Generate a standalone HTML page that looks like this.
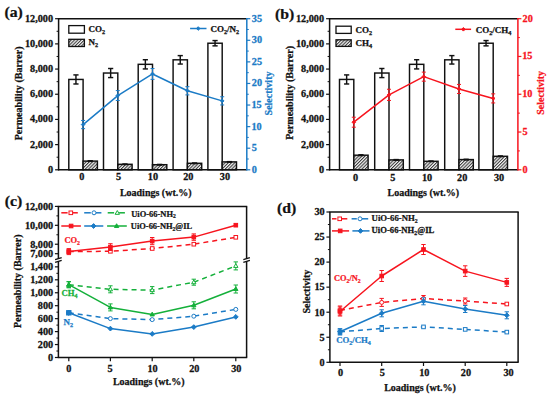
<!DOCTYPE html><html><head><meta charset="utf-8"><style>html,body{margin:0;padding:0;background:#fff;width:550px;height:397px;overflow:hidden}svg{display:block}text{font-family:"Liberation Serif",serif;font-weight:bold;stroke:currentColor;stroke-width:0.25px}</style></head><body>
<svg width="550" height="397" viewBox="0 0 550 397">
<defs><pattern id="hatch" patternUnits="userSpaceOnUse" width="2.3" height="2.3" patternTransform="rotate(45)"><rect width="2.3" height="2.3" fill="#f4f4f4"/><rect width="1.05" height="2.3" fill="#3a3a3a"/></pattern></defs>
<rect width="550" height="397" fill="#fff"/>
<rect x="68.80" y="79.44" width="14.30" height="90.36" fill="#fff" stroke="#111" stroke-width="1.45"/>
<rect x="83.10" y="161.10" width="14.30" height="8.70" fill="url(#hatch)" stroke="#111" stroke-width="1.45"/>
<line x1="75.95" y1="74.91" x2="75.95" y2="83.98" stroke="#111" stroke-width="1.45" stroke-linecap="butt"/>
<line x1="73.35" y1="74.91" x2="78.55" y2="74.91" stroke="#111" stroke-width="1.45" stroke-linecap="butt"/>
<line x1="73.35" y1="83.98" x2="78.55" y2="83.98" stroke="#111" stroke-width="1.45" stroke-linecap="butt"/>
<line x1="90.25" y1="160.78" x2="90.25" y2="161.41" stroke="#111" stroke-width="1.45" stroke-linecap="butt"/>
<line x1="87.65" y1="160.78" x2="92.85" y2="160.78" stroke="#111" stroke-width="1.45" stroke-linecap="butt"/>
<line x1="87.65" y1="161.41" x2="92.85" y2="161.41" stroke="#111" stroke-width="1.45" stroke-linecap="butt"/>
<rect x="103.50" y="73.03" width="14.30" height="96.77" fill="#fff" stroke="#111" stroke-width="1.45"/>
<rect x="117.80" y="164.30" width="14.30" height="5.50" fill="url(#hatch)" stroke="#111" stroke-width="1.45"/>
<line x1="110.65" y1="68.50" x2="110.65" y2="77.57" stroke="#111" stroke-width="1.45" stroke-linecap="butt"/>
<line x1="108.05" y1="68.50" x2="113.25" y2="68.50" stroke="#111" stroke-width="1.45" stroke-linecap="butt"/>
<line x1="108.05" y1="77.57" x2="113.25" y2="77.57" stroke="#111" stroke-width="1.45" stroke-linecap="butt"/>
<line x1="124.95" y1="164.05" x2="124.95" y2="164.55" stroke="#111" stroke-width="1.45" stroke-linecap="butt"/>
<line x1="122.35" y1="164.05" x2="127.55" y2="164.05" stroke="#111" stroke-width="1.45" stroke-linecap="butt"/>
<line x1="122.35" y1="164.55" x2="127.55" y2="164.55" stroke="#111" stroke-width="1.45" stroke-linecap="butt"/>
<rect x="138.20" y="64.33" width="14.30" height="105.47" fill="#fff" stroke="#111" stroke-width="1.45"/>
<rect x="152.50" y="164.70" width="14.30" height="5.10" fill="url(#hatch)" stroke="#111" stroke-width="1.45"/>
<line x1="145.35" y1="59.74" x2="145.35" y2="68.93" stroke="#111" stroke-width="1.45" stroke-linecap="butt"/>
<line x1="142.75" y1="59.74" x2="147.95" y2="59.74" stroke="#111" stroke-width="1.45" stroke-linecap="butt"/>
<line x1="142.75" y1="68.93" x2="147.95" y2="68.93" stroke="#111" stroke-width="1.45" stroke-linecap="butt"/>
<line x1="159.65" y1="164.45" x2="159.65" y2="164.95" stroke="#111" stroke-width="1.45" stroke-linecap="butt"/>
<line x1="157.05" y1="164.45" x2="162.25" y2="164.45" stroke="#111" stroke-width="1.45" stroke-linecap="butt"/>
<line x1="157.05" y1="164.95" x2="162.25" y2="164.95" stroke="#111" stroke-width="1.45" stroke-linecap="butt"/>
<rect x="173.10" y="59.82" width="14.30" height="109.98" fill="#fff" stroke="#111" stroke-width="1.45"/>
<rect x="187.40" y="163.29" width="14.30" height="6.51" fill="url(#hatch)" stroke="#111" stroke-width="1.45"/>
<line x1="180.25" y1="55.61" x2="180.25" y2="64.04" stroke="#111" stroke-width="1.45" stroke-linecap="butt"/>
<line x1="177.65" y1="55.61" x2="182.85" y2="55.61" stroke="#111" stroke-width="1.45" stroke-linecap="butt"/>
<line x1="177.65" y1="64.04" x2="182.85" y2="64.04" stroke="#111" stroke-width="1.45" stroke-linecap="butt"/>
<line x1="194.55" y1="162.98" x2="194.55" y2="163.60" stroke="#111" stroke-width="1.45" stroke-linecap="butt"/>
<line x1="191.95" y1="162.98" x2="197.15" y2="162.98" stroke="#111" stroke-width="1.45" stroke-linecap="butt"/>
<line x1="191.95" y1="163.60" x2="197.15" y2="163.60" stroke="#111" stroke-width="1.45" stroke-linecap="butt"/>
<rect x="207.90" y="43.22" width="14.30" height="126.58" fill="#fff" stroke="#111" stroke-width="1.45"/>
<rect x="222.20" y="161.89" width="14.30" height="7.91" fill="url(#hatch)" stroke="#111" stroke-width="1.45"/>
<line x1="215.05" y1="40.57" x2="215.05" y2="45.86" stroke="#111" stroke-width="1.45" stroke-linecap="butt"/>
<line x1="212.45" y1="40.57" x2="217.65" y2="40.57" stroke="#111" stroke-width="1.45" stroke-linecap="butt"/>
<line x1="212.45" y1="45.86" x2="217.65" y2="45.86" stroke="#111" stroke-width="1.45" stroke-linecap="butt"/>
<line x1="229.35" y1="161.64" x2="229.35" y2="162.14" stroke="#111" stroke-width="1.45" stroke-linecap="butt"/>
<line x1="226.75" y1="161.64" x2="231.95" y2="161.64" stroke="#111" stroke-width="1.45" stroke-linecap="butt"/>
<line x1="226.75" y1="162.14" x2="231.95" y2="162.14" stroke="#111" stroke-width="1.45" stroke-linecap="butt"/>
<polyline points="83.10,124.56 117.80,95.55 152.50,73.96 187.40,90.80 222.20,100.86" fill="none" stroke="#1b7bc6" stroke-width="1.5" stroke-linejoin="round"/>
<line x1="83.10" y1="120.46" x2="83.10" y2="128.66" stroke="#1b7bc6" stroke-width="1" stroke-linecap="butt"/>
<line x1="81.10" y1="120.46" x2="85.10" y2="120.46" stroke="#1b7bc6" stroke-width="1" stroke-linecap="butt"/>
<line x1="81.10" y1="128.66" x2="85.10" y2="128.66" stroke="#1b7bc6" stroke-width="1" stroke-linecap="butt"/>
<polygon points="83.10,122.76 84.90,124.56 83.10,126.36 81.30,124.56" fill="#1b7bc6" stroke="#1b7bc6" stroke-width="1"/>
<line x1="117.80" y1="90.58" x2="117.80" y2="100.51" stroke="#1b7bc6" stroke-width="1" stroke-linecap="butt"/>
<line x1="115.80" y1="90.58" x2="119.80" y2="90.58" stroke="#1b7bc6" stroke-width="1" stroke-linecap="butt"/>
<line x1="115.80" y1="100.51" x2="119.80" y2="100.51" stroke="#1b7bc6" stroke-width="1" stroke-linecap="butt"/>
<polygon points="117.80,93.75 119.60,95.55 117.80,97.35 116.00,95.55" fill="#1b7bc6" stroke="#1b7bc6" stroke-width="1"/>
<line x1="152.50" y1="68.56" x2="152.50" y2="79.36" stroke="#1b7bc6" stroke-width="1" stroke-linecap="butt"/>
<line x1="150.50" y1="68.56" x2="154.50" y2="68.56" stroke="#1b7bc6" stroke-width="1" stroke-linecap="butt"/>
<line x1="150.50" y1="79.36" x2="154.50" y2="79.36" stroke="#1b7bc6" stroke-width="1" stroke-linecap="butt"/>
<polygon points="152.50,72.16 154.30,73.96 152.50,75.76 150.70,73.96" fill="#1b7bc6" stroke="#1b7bc6" stroke-width="1"/>
<line x1="187.40" y1="86.69" x2="187.40" y2="94.90" stroke="#1b7bc6" stroke-width="1" stroke-linecap="butt"/>
<line x1="185.40" y1="86.69" x2="189.40" y2="86.69" stroke="#1b7bc6" stroke-width="1" stroke-linecap="butt"/>
<line x1="185.40" y1="94.90" x2="189.40" y2="94.90" stroke="#1b7bc6" stroke-width="1" stroke-linecap="butt"/>
<polygon points="187.40,89.00 189.20,90.80 187.40,92.60 185.60,90.80" fill="#1b7bc6" stroke="#1b7bc6" stroke-width="1"/>
<line x1="222.20" y1="96.75" x2="222.20" y2="104.96" stroke="#1b7bc6" stroke-width="1" stroke-linecap="butt"/>
<line x1="220.20" y1="96.75" x2="224.20" y2="96.75" stroke="#1b7bc6" stroke-width="1" stroke-linecap="butt"/>
<line x1="220.20" y1="104.96" x2="224.20" y2="104.96" stroke="#1b7bc6" stroke-width="1" stroke-linecap="butt"/>
<polygon points="222.20,99.06 224.00,100.86 222.20,102.66 220.40,100.86" fill="#1b7bc6" stroke="#1b7bc6" stroke-width="1"/>
<line x1="58.00" y1="18.70" x2="246.80" y2="18.70" stroke="#111" stroke-width="1.5" stroke-linecap="butt"/>
<line x1="58.60" y1="18.70" x2="58.60" y2="170.40" stroke="#111" stroke-width="1.5" stroke-linecap="butt"/>
<line x1="58.00" y1="169.80" x2="246.80" y2="169.80" stroke="#111" stroke-width="1.5" stroke-linecap="butt"/>
<line x1="246.80" y1="18.10" x2="246.80" y2="170.40" stroke="#1b7bc6" stroke-width="1.5" stroke-linecap="butt"/>
<line x1="55.10" y1="169.80" x2="58.60" y2="169.80" stroke="#111" stroke-width="1.2" stroke-linecap="butt"/>
<text transform="translate(47.98 172.71) scale(1.08 1)" font-size="9.5" text-anchor="start" fill="#111" style="color:#111">0</text>
<line x1="56.60" y1="157.21" x2="58.60" y2="157.21" stroke="#111" stroke-width="1" stroke-linecap="butt"/>
<line x1="55.10" y1="144.62" x2="58.60" y2="144.62" stroke="#111" stroke-width="1.2" stroke-linecap="butt"/>
<text transform="translate(30.03 147.52) scale(1.08 1)" font-size="9.5" text-anchor="start" fill="#111" style="color:#111">2,000</text>
<line x1="56.60" y1="132.03" x2="58.60" y2="132.03" stroke="#111" stroke-width="1" stroke-linecap="butt"/>
<line x1="55.10" y1="119.43" x2="58.60" y2="119.43" stroke="#111" stroke-width="1.2" stroke-linecap="butt"/>
<text transform="translate(30.03 122.34) scale(1.08 1)" font-size="9.5" text-anchor="start" fill="#111" style="color:#111">4,000</text>
<line x1="56.60" y1="106.84" x2="58.60" y2="106.84" stroke="#111" stroke-width="1" stroke-linecap="butt"/>
<line x1="55.10" y1="94.25" x2="58.60" y2="94.25" stroke="#111" stroke-width="1.2" stroke-linecap="butt"/>
<text transform="translate(30.03 97.16) scale(1.08 1)" font-size="9.5" text-anchor="start" fill="#111" style="color:#111">6,000</text>
<line x1="56.60" y1="81.66" x2="58.60" y2="81.66" stroke="#111" stroke-width="1" stroke-linecap="butt"/>
<line x1="55.10" y1="69.07" x2="58.60" y2="69.07" stroke="#111" stroke-width="1.2" stroke-linecap="butt"/>
<text transform="translate(30.03 71.97) scale(1.08 1)" font-size="9.5" text-anchor="start" fill="#111" style="color:#111">8,000</text>
<line x1="56.60" y1="56.47" x2="58.60" y2="56.47" stroke="#111" stroke-width="1" stroke-linecap="butt"/>
<line x1="55.10" y1="43.88" x2="58.60" y2="43.88" stroke="#111" stroke-width="1.2" stroke-linecap="butt"/>
<text transform="translate(24.90 46.79) scale(1.08 1)" font-size="9.5" text-anchor="start" fill="#111" style="color:#111">10,000</text>
<line x1="56.60" y1="31.29" x2="58.60" y2="31.29" stroke="#111" stroke-width="1" stroke-linecap="butt"/>
<line x1="55.10" y1="18.70" x2="58.60" y2="18.70" stroke="#111" stroke-width="1.2" stroke-linecap="butt"/>
<text transform="translate(24.90 21.61) scale(1.08 1)" font-size="9.5" text-anchor="start" fill="#111" style="color:#111">12,000</text>
<line x1="246.80" y1="169.80" x2="250.30" y2="169.80" stroke="#1b7bc6" stroke-width="1.2" stroke-linecap="butt"/>
<text transform="translate(251.79 172.71) scale(1.08 1)" font-size="9.5" text-anchor="start" fill="#1b7bc6" style="color:#1b7bc6">0</text>
<line x1="246.80" y1="159.01" x2="248.80" y2="159.01" stroke="#1b7bc6" stroke-width="1" stroke-linecap="butt"/>
<line x1="246.80" y1="148.21" x2="250.30" y2="148.21" stroke="#1b7bc6" stroke-width="1.2" stroke-linecap="butt"/>
<text transform="translate(251.79 151.12) scale(1.08 1)" font-size="9.5" text-anchor="start" fill="#1b7bc6" style="color:#1b7bc6">5</text>
<line x1="246.80" y1="137.42" x2="248.80" y2="137.42" stroke="#1b7bc6" stroke-width="1" stroke-linecap="butt"/>
<line x1="246.80" y1="126.63" x2="250.30" y2="126.63" stroke="#1b7bc6" stroke-width="1.2" stroke-linecap="butt"/>
<text transform="translate(251.38 129.53) scale(1.08 1)" font-size="9.5" text-anchor="start" fill="#1b7bc6" style="color:#1b7bc6">10</text>
<line x1="246.80" y1="115.84" x2="248.80" y2="115.84" stroke="#1b7bc6" stroke-width="1" stroke-linecap="butt"/>
<line x1="246.80" y1="105.04" x2="250.30" y2="105.04" stroke="#1b7bc6" stroke-width="1.2" stroke-linecap="butt"/>
<text transform="translate(251.38 107.95) scale(1.08 1)" font-size="9.5" text-anchor="start" fill="#1b7bc6" style="color:#1b7bc6">15</text>
<line x1="246.80" y1="94.25" x2="248.80" y2="94.25" stroke="#1b7bc6" stroke-width="1" stroke-linecap="butt"/>
<line x1="246.80" y1="83.46" x2="250.30" y2="83.46" stroke="#1b7bc6" stroke-width="1.2" stroke-linecap="butt"/>
<text transform="translate(251.79 86.36) scale(1.08 1)" font-size="9.5" text-anchor="start" fill="#1b7bc6" style="color:#1b7bc6">20</text>
<line x1="246.80" y1="72.66" x2="248.80" y2="72.66" stroke="#1b7bc6" stroke-width="1" stroke-linecap="butt"/>
<line x1="246.80" y1="61.87" x2="250.30" y2="61.87" stroke="#1b7bc6" stroke-width="1.2" stroke-linecap="butt"/>
<text transform="translate(251.79 64.78) scale(1.08 1)" font-size="9.5" text-anchor="start" fill="#1b7bc6" style="color:#1b7bc6">25</text>
<line x1="246.80" y1="51.08" x2="248.80" y2="51.08" stroke="#1b7bc6" stroke-width="1" stroke-linecap="butt"/>
<line x1="246.80" y1="40.29" x2="250.30" y2="40.29" stroke="#1b7bc6" stroke-width="1.2" stroke-linecap="butt"/>
<text transform="translate(251.79 43.19) scale(1.08 1)" font-size="9.5" text-anchor="start" fill="#1b7bc6" style="color:#1b7bc6">30</text>
<line x1="246.80" y1="29.49" x2="248.80" y2="29.49" stroke="#1b7bc6" stroke-width="1" stroke-linecap="butt"/>
<line x1="246.80" y1="18.70" x2="250.30" y2="18.70" stroke="#1b7bc6" stroke-width="1.2" stroke-linecap="butt"/>
<text transform="translate(251.79 21.61) scale(1.08 1)" font-size="9.5" text-anchor="start" fill="#1b7bc6" style="color:#1b7bc6">35</text>
<text transform="translate(79.14 180.41) scale(1.08 1)" font-size="9.5" text-anchor="start" fill="#111" style="color:#111">0</text>
<text transform="translate(115.91 180.41) scale(1.08 1)" font-size="9.5" text-anchor="start" fill="#111" style="color:#111">5</text>
<text transform="translate(147.76 180.41) scale(1.08 1)" font-size="9.5" text-anchor="start" fill="#111" style="color:#111">10</text>
<text transform="translate(183.17 180.41) scale(1.08 1)" font-size="9.5" text-anchor="start" fill="#111" style="color:#111">20</text>
<text transform="translate(219.87 180.41) scale(1.08 1)" font-size="9.5" text-anchor="start" fill="#111" style="color:#111">30</text>
<rect x="339.50" y="79.44" width="14.30" height="90.36" fill="#fff" stroke="#111" stroke-width="1.45"/>
<rect x="353.80" y="155.19" width="14.30" height="14.61" fill="url(#hatch)" stroke="#111" stroke-width="1.45"/>
<line x1="346.65" y1="74.91" x2="346.65" y2="83.98" stroke="#111" stroke-width="1.45" stroke-linecap="butt"/>
<line x1="344.05" y1="74.91" x2="349.25" y2="74.91" stroke="#111" stroke-width="1.45" stroke-linecap="butt"/>
<line x1="344.05" y1="83.98" x2="349.25" y2="83.98" stroke="#111" stroke-width="1.45" stroke-linecap="butt"/>
<line x1="360.95" y1="154.82" x2="360.95" y2="155.57" stroke="#111" stroke-width="1.45" stroke-linecap="butt"/>
<line x1="358.35" y1="154.82" x2="363.55" y2="154.82" stroke="#111" stroke-width="1.45" stroke-linecap="butt"/>
<line x1="358.35" y1="155.57" x2="363.55" y2="155.57" stroke="#111" stroke-width="1.45" stroke-linecap="butt"/>
<rect x="374.70" y="73.03" width="14.30" height="96.77" fill="#fff" stroke="#111" stroke-width="1.45"/>
<rect x="389.00" y="159.89" width="14.30" height="9.91" fill="url(#hatch)" stroke="#111" stroke-width="1.45"/>
<line x1="381.85" y1="68.50" x2="381.85" y2="77.57" stroke="#111" stroke-width="1.45" stroke-linecap="butt"/>
<line x1="379.25" y1="68.50" x2="384.45" y2="68.50" stroke="#111" stroke-width="1.45" stroke-linecap="butt"/>
<line x1="379.25" y1="77.57" x2="384.45" y2="77.57" stroke="#111" stroke-width="1.45" stroke-linecap="butt"/>
<line x1="396.15" y1="159.58" x2="396.15" y2="160.21" stroke="#111" stroke-width="1.45" stroke-linecap="butt"/>
<line x1="393.55" y1="159.58" x2="398.75" y2="159.58" stroke="#111" stroke-width="1.45" stroke-linecap="butt"/>
<line x1="393.55" y1="160.21" x2="398.75" y2="160.21" stroke="#111" stroke-width="1.45" stroke-linecap="butt"/>
<rect x="409.50" y="64.33" width="14.30" height="105.47" fill="#fff" stroke="#111" stroke-width="1.45"/>
<rect x="423.80" y="161.29" width="14.30" height="8.51" fill="url(#hatch)" stroke="#111" stroke-width="1.45"/>
<line x1="416.65" y1="59.74" x2="416.65" y2="68.93" stroke="#111" stroke-width="1.45" stroke-linecap="butt"/>
<line x1="414.05" y1="59.74" x2="419.25" y2="59.74" stroke="#111" stroke-width="1.45" stroke-linecap="butt"/>
<line x1="414.05" y1="68.93" x2="419.25" y2="68.93" stroke="#111" stroke-width="1.45" stroke-linecap="butt"/>
<line x1="430.95" y1="161.04" x2="430.95" y2="161.54" stroke="#111" stroke-width="1.45" stroke-linecap="butt"/>
<line x1="428.35" y1="161.04" x2="433.55" y2="161.04" stroke="#111" stroke-width="1.45" stroke-linecap="butt"/>
<line x1="428.35" y1="161.54" x2="433.55" y2="161.54" stroke="#111" stroke-width="1.45" stroke-linecap="butt"/>
<rect x="444.70" y="59.82" width="14.30" height="109.98" fill="#fff" stroke="#111" stroke-width="1.45"/>
<rect x="459.00" y="159.59" width="14.30" height="10.21" fill="url(#hatch)" stroke="#111" stroke-width="1.45"/>
<line x1="451.85" y1="55.61" x2="451.85" y2="64.04" stroke="#111" stroke-width="1.45" stroke-linecap="butt"/>
<line x1="449.25" y1="55.61" x2="454.45" y2="55.61" stroke="#111" stroke-width="1.45" stroke-linecap="butt"/>
<line x1="449.25" y1="64.04" x2="454.45" y2="64.04" stroke="#111" stroke-width="1.45" stroke-linecap="butt"/>
<line x1="466.15" y1="159.27" x2="466.15" y2="159.90" stroke="#111" stroke-width="1.45" stroke-linecap="butt"/>
<line x1="463.55" y1="159.27" x2="468.75" y2="159.27" stroke="#111" stroke-width="1.45" stroke-linecap="butt"/>
<line x1="463.55" y1="159.90" x2="468.75" y2="159.90" stroke="#111" stroke-width="1.45" stroke-linecap="butt"/>
<rect x="478.90" y="43.22" width="14.30" height="126.58" fill="#fff" stroke="#111" stroke-width="1.45"/>
<rect x="493.20" y="156.29" width="14.30" height="13.51" fill="url(#hatch)" stroke="#111" stroke-width="1.45"/>
<line x1="486.05" y1="40.57" x2="486.05" y2="45.86" stroke="#111" stroke-width="1.45" stroke-linecap="butt"/>
<line x1="483.45" y1="40.57" x2="488.65" y2="40.57" stroke="#111" stroke-width="1.45" stroke-linecap="butt"/>
<line x1="483.45" y1="45.86" x2="488.65" y2="45.86" stroke="#111" stroke-width="1.45" stroke-linecap="butt"/>
<line x1="500.35" y1="155.97" x2="500.35" y2="156.60" stroke="#111" stroke-width="1.45" stroke-linecap="butt"/>
<line x1="497.75" y1="155.97" x2="502.95" y2="155.97" stroke="#111" stroke-width="1.45" stroke-linecap="butt"/>
<line x1="497.75" y1="156.60" x2="502.95" y2="156.60" stroke="#111" stroke-width="1.45" stroke-linecap="butt"/>
<polyline points="353.80,122.20 389.00,94.85 423.80,76.65 459.00,88.96 493.20,98.41" fill="none" stroke="#f7141e" stroke-width="1.5" stroke-linejoin="round"/>
<line x1="353.80" y1="117.22" x2="353.80" y2="127.19" stroke="#f7141e" stroke-width="1" stroke-linecap="butt"/>
<line x1="351.80" y1="117.22" x2="355.80" y2="117.22" stroke="#f7141e" stroke-width="1" stroke-linecap="butt"/>
<line x1="351.80" y1="127.19" x2="355.80" y2="127.19" stroke="#f7141e" stroke-width="1" stroke-linecap="butt"/>
<polygon points="353.80,120.40 355.60,122.20 353.80,124.00 352.00,122.20" fill="#f7141e" stroke="#f7141e" stroke-width="1"/>
<line x1="389.00" y1="89.26" x2="389.00" y2="100.45" stroke="#f7141e" stroke-width="1" stroke-linecap="butt"/>
<line x1="387.00" y1="89.26" x2="391.00" y2="89.26" stroke="#f7141e" stroke-width="1" stroke-linecap="butt"/>
<line x1="387.00" y1="100.45" x2="391.00" y2="100.45" stroke="#f7141e" stroke-width="1" stroke-linecap="butt"/>
<polygon points="389.00,93.05 390.80,94.85 389.00,96.65 387.20,94.85" fill="#f7141e" stroke="#f7141e" stroke-width="1"/>
<line x1="423.80" y1="72.11" x2="423.80" y2="81.18" stroke="#f7141e" stroke-width="1" stroke-linecap="butt"/>
<line x1="421.80" y1="72.11" x2="425.80" y2="72.11" stroke="#f7141e" stroke-width="1" stroke-linecap="butt"/>
<line x1="421.80" y1="81.18" x2="425.80" y2="81.18" stroke="#f7141e" stroke-width="1" stroke-linecap="butt"/>
<polygon points="423.80,74.85 425.60,76.65 423.80,78.45 422.00,76.65" fill="#f7141e" stroke="#f7141e" stroke-width="1"/>
<line x1="459.00" y1="84.43" x2="459.00" y2="93.49" stroke="#f7141e" stroke-width="1" stroke-linecap="butt"/>
<line x1="457.00" y1="84.43" x2="461.00" y2="84.43" stroke="#f7141e" stroke-width="1" stroke-linecap="butt"/>
<line x1="457.00" y1="93.49" x2="461.00" y2="93.49" stroke="#f7141e" stroke-width="1" stroke-linecap="butt"/>
<polygon points="459.00,87.16 460.80,88.96 459.00,90.76 457.20,88.96" fill="#f7141e" stroke="#f7141e" stroke-width="1"/>
<line x1="493.20" y1="93.87" x2="493.20" y2="102.94" stroke="#f7141e" stroke-width="1" stroke-linecap="butt"/>
<line x1="491.20" y1="93.87" x2="495.20" y2="93.87" stroke="#f7141e" stroke-width="1" stroke-linecap="butt"/>
<line x1="491.20" y1="102.94" x2="495.20" y2="102.94" stroke="#f7141e" stroke-width="1" stroke-linecap="butt"/>
<polygon points="493.20,96.61 495.00,98.41 493.20,100.21 491.40,98.41" fill="#f7141e" stroke="#f7141e" stroke-width="1"/>
<line x1="329.00" y1="18.70" x2="517.90" y2="18.70" stroke="#111" stroke-width="1.5" stroke-linecap="butt"/>
<line x1="329.60" y1="18.70" x2="329.60" y2="170.40" stroke="#111" stroke-width="1.5" stroke-linecap="butt"/>
<line x1="329.00" y1="169.80" x2="517.90" y2="169.80" stroke="#111" stroke-width="1.5" stroke-linecap="butt"/>
<line x1="517.90" y1="18.10" x2="517.90" y2="170.40" stroke="#f7141e" stroke-width="1.5" stroke-linecap="butt"/>
<line x1="326.10" y1="169.80" x2="329.60" y2="169.80" stroke="#111" stroke-width="1.2" stroke-linecap="butt"/>
<text transform="translate(318.98 172.71) scale(1.08 1)" font-size="9.5" text-anchor="start" fill="#111" style="color:#111">0</text>
<line x1="327.60" y1="157.21" x2="329.60" y2="157.21" stroke="#111" stroke-width="1" stroke-linecap="butt"/>
<line x1="326.10" y1="144.62" x2="329.60" y2="144.62" stroke="#111" stroke-width="1.2" stroke-linecap="butt"/>
<text transform="translate(301.03 147.52) scale(1.08 1)" font-size="9.5" text-anchor="start" fill="#111" style="color:#111">2,000</text>
<line x1="327.60" y1="132.03" x2="329.60" y2="132.03" stroke="#111" stroke-width="1" stroke-linecap="butt"/>
<line x1="326.10" y1="119.43" x2="329.60" y2="119.43" stroke="#111" stroke-width="1.2" stroke-linecap="butt"/>
<text transform="translate(301.03 122.34) scale(1.08 1)" font-size="9.5" text-anchor="start" fill="#111" style="color:#111">4,000</text>
<line x1="327.60" y1="106.84" x2="329.60" y2="106.84" stroke="#111" stroke-width="1" stroke-linecap="butt"/>
<line x1="326.10" y1="94.25" x2="329.60" y2="94.25" stroke="#111" stroke-width="1.2" stroke-linecap="butt"/>
<text transform="translate(301.03 97.16) scale(1.08 1)" font-size="9.5" text-anchor="start" fill="#111" style="color:#111">6,000</text>
<line x1="327.60" y1="81.66" x2="329.60" y2="81.66" stroke="#111" stroke-width="1" stroke-linecap="butt"/>
<line x1="326.10" y1="69.07" x2="329.60" y2="69.07" stroke="#111" stroke-width="1.2" stroke-linecap="butt"/>
<text transform="translate(301.03 71.97) scale(1.08 1)" font-size="9.5" text-anchor="start" fill="#111" style="color:#111">8,000</text>
<line x1="327.60" y1="56.47" x2="329.60" y2="56.47" stroke="#111" stroke-width="1" stroke-linecap="butt"/>
<line x1="326.10" y1="43.88" x2="329.60" y2="43.88" stroke="#111" stroke-width="1.2" stroke-linecap="butt"/>
<text transform="translate(295.90 46.79) scale(1.08 1)" font-size="9.5" text-anchor="start" fill="#111" style="color:#111">10,000</text>
<line x1="327.60" y1="31.29" x2="329.60" y2="31.29" stroke="#111" stroke-width="1" stroke-linecap="butt"/>
<line x1="326.10" y1="18.70" x2="329.60" y2="18.70" stroke="#111" stroke-width="1.2" stroke-linecap="butt"/>
<text transform="translate(295.90 21.61) scale(1.08 1)" font-size="9.5" text-anchor="start" fill="#111" style="color:#111">12,000</text>
<line x1="517.90" y1="169.80" x2="521.40" y2="169.80" stroke="#f7141e" stroke-width="1.2" stroke-linecap="butt"/>
<text transform="translate(522.59 172.71) scale(1.08 1)" font-size="9.5" text-anchor="start" fill="#f7141e" style="color:#f7141e">0</text>
<line x1="517.90" y1="150.91" x2="519.90" y2="150.91" stroke="#f7141e" stroke-width="1" stroke-linecap="butt"/>
<line x1="517.90" y1="132.03" x2="521.40" y2="132.03" stroke="#f7141e" stroke-width="1.2" stroke-linecap="butt"/>
<text transform="translate(522.59 134.93) scale(1.08 1)" font-size="9.5" text-anchor="start" fill="#f7141e" style="color:#f7141e">5</text>
<line x1="517.90" y1="113.14" x2="519.90" y2="113.14" stroke="#f7141e" stroke-width="1" stroke-linecap="butt"/>
<line x1="517.90" y1="94.25" x2="521.40" y2="94.25" stroke="#f7141e" stroke-width="1.2" stroke-linecap="butt"/>
<text transform="translate(522.18 97.16) scale(1.08 1)" font-size="9.5" text-anchor="start" fill="#f7141e" style="color:#f7141e">10</text>
<line x1="517.90" y1="75.36" x2="519.90" y2="75.36" stroke="#f7141e" stroke-width="1" stroke-linecap="butt"/>
<line x1="517.90" y1="56.47" x2="521.40" y2="56.47" stroke="#f7141e" stroke-width="1.2" stroke-linecap="butt"/>
<text transform="translate(522.18 59.38) scale(1.08 1)" font-size="9.5" text-anchor="start" fill="#f7141e" style="color:#f7141e">15</text>
<line x1="517.90" y1="37.59" x2="519.90" y2="37.59" stroke="#f7141e" stroke-width="1" stroke-linecap="butt"/>
<line x1="517.90" y1="18.70" x2="521.40" y2="18.70" stroke="#f7141e" stroke-width="1.2" stroke-linecap="butt"/>
<text transform="translate(522.59 21.61) scale(1.08 1)" font-size="9.5" text-anchor="start" fill="#f7141e" style="color:#f7141e">20</text>
<text transform="translate(353.04 180.81) scale(1.08 1)" font-size="9.5" text-anchor="start" fill="#111" style="color:#111">0</text>
<text transform="translate(390.31 180.81) scale(1.08 1)" font-size="9.5" text-anchor="start" fill="#111" style="color:#111">5</text>
<text transform="translate(421.96 180.81) scale(1.08 1)" font-size="9.5" text-anchor="start" fill="#111" style="color:#111">10</text>
<text transform="translate(457.07 180.81) scale(1.08 1)" font-size="9.5" text-anchor="start" fill="#111" style="color:#111">20</text>
<text transform="translate(493.97 180.81) scale(1.08 1)" font-size="9.5" text-anchor="start" fill="#111" style="color:#111">30</text>
<text transform="translate(4.48 17.15) scale(1.065 1)" font-size="14.8" text-anchor="start" fill="#111" style="color:#111">(a)</text>
<text x="22.01" y="140.33" font-size="10.05" text-anchor="start" fill="#111" style="color:#111" transform="rotate(-90 22.01 140.33)">Permeability (Barrer)</text>
<text x="119.90" y="195.88" font-size="10" text-anchor="start" fill="#111" style="color:#111">Loadings (wt.%)</text>
<text x="271.70" y="115.40" font-size="10" text-anchor="start" fill="#1b7bc6" style="color:#1b7bc6" transform="rotate(-90 271.70 115.40)">Selectivity</text>
<rect x="68.8" y="25.6" width="15.6" height="7.6" fill="#fff" stroke="#111" stroke-width="1.3"/>
<rect x="68.8" y="39.3" width="15.6" height="7.2" fill="url(#hatch)" stroke="#111" stroke-width="1.3"/>
<text x="88.40" y="32.30" font-size="9" text-anchor="start" fill="#111" style="color:#111">CO<tspan font-size="6.2" dy="2.0">2</tspan><tspan dy="-2.0"></tspan></text>
<text x="88.40" y="45.40" font-size="9" text-anchor="start" fill="#111" style="color:#111">N<tspan font-size="6.2" dy="2.0">2</tspan><tspan dy="-2.0"></tspan></text>
<line x1="190.10" y1="28.50" x2="206.50" y2="28.50" stroke="#1b7bc6" stroke-width="1.5" stroke-linecap="butt"/>
<polygon points="198.20,26.70 200.00,28.50 198.20,30.30 196.40,28.50" fill="#1b7bc6" stroke="#1b7bc6" stroke-width="1"/>
<text x="210.40" y="32.00" font-size="9" text-anchor="start" fill="#111" style="color:#111">CO<tspan font-size="6.2" dy="2.0">2</tspan><tspan dy="-2.0">/N<tspan font-size="6.2" dy="2.0">2</tspan><tspan dy="-2.0"></tspan></tspan></text>
<text transform="translate(275.00 18.85) scale(1.065 1)" font-size="14.8" text-anchor="start" fill="#111" style="color:#111">(b)</text>
<text x="292.81" y="139.78" font-size="10.05" text-anchor="start" fill="#111" style="color:#111" transform="rotate(-90 292.81 139.78)">Permeability (Barrer)</text>
<text x="387.50" y="196.07" font-size="10" text-anchor="start" fill="#111" style="color:#111">Loadings (wt.%)</text>
<text x="544.00" y="114.75" font-size="10" text-anchor="start" fill="#f7141e" style="color:#f7141e" transform="rotate(-90 544.00 114.75)">Selectivity</text>
<rect x="336.0" y="26.2" width="15.2" height="7.2" fill="#fff" stroke="#111" stroke-width="1.3"/>
<rect x="336.0" y="39.8" width="15.2" height="6.6" fill="url(#hatch)" stroke="#111" stroke-width="1.3"/>
<text x="355.40" y="32.60" font-size="9" text-anchor="start" fill="#111" style="color:#111">CO<tspan font-size="6.2" dy="2.0">2</tspan><tspan dy="-2.0"></tspan></text>
<text x="355.40" y="46.00" font-size="9" text-anchor="start" fill="#111" style="color:#111">CH<tspan font-size="6.2" dy="2.0">4</tspan><tspan dy="-2.0"></tspan></text>
<line x1="455.30" y1="29.30" x2="471.10" y2="29.30" stroke="#f7141e" stroke-width="1.5" stroke-linecap="butt"/>
<polygon points="463.40,27.50 465.20,29.30 463.40,31.10 461.60,29.30" fill="#f7141e" stroke="#f7141e" stroke-width="1"/>
<text x="475.70" y="32.80" font-size="9" text-anchor="start" fill="#111" style="color:#111">CO<tspan font-size="6.2" dy="2.0">2</tspan><tspan dy="-2.0">/CH<tspan font-size="6.2" dy="2.0">4</tspan><tspan dy="-2.0"></tspan></tspan></text>
<polyline points="68.80,251.60 110.40,251.30 152.20,248.50 193.80,244.20 235.80,237.30" fill="none" stroke="#f7141e" stroke-width="1.5" stroke-linejoin="round" stroke-dasharray="5 4"/>
<rect x="67.00" y="249.80" width="3.60" height="3.60" fill="#fff" stroke="#f7141e" stroke-width="1"/>
<rect x="108.60" y="249.50" width="3.60" height="3.60" fill="#fff" stroke="#f7141e" stroke-width="1"/>
<rect x="150.40" y="246.70" width="3.60" height="3.60" fill="#fff" stroke="#f7141e" stroke-width="1"/>
<rect x="192.00" y="242.40" width="3.60" height="3.60" fill="#fff" stroke="#f7141e" stroke-width="1"/>
<rect x="234.00" y="235.50" width="3.60" height="3.60" fill="#fff" stroke="#f7141e" stroke-width="1"/>
<polyline points="68.80,251.60 110.40,247.10 152.20,241.10 193.80,237.10 235.80,225.20" fill="none" stroke="#f7141e" stroke-width="1.5" stroke-linejoin="round"/>
<line x1="68.80" y1="248.60" x2="68.80" y2="254.60" stroke="#f7141e" stroke-width="1" stroke-linecap="butt"/>
<line x1="66.60" y1="248.60" x2="71.00" y2="248.60" stroke="#f7141e" stroke-width="1" stroke-linecap="butt"/>
<line x1="66.60" y1="254.60" x2="71.00" y2="254.60" stroke="#f7141e" stroke-width="1" stroke-linecap="butt"/>
<rect x="67.00" y="249.80" width="3.60" height="3.60" fill="#f7141e" stroke="#f7141e" stroke-width="1"/>
<line x1="110.40" y1="243.70" x2="110.40" y2="250.50" stroke="#f7141e" stroke-width="1" stroke-linecap="butt"/>
<line x1="108.20" y1="243.70" x2="112.60" y2="243.70" stroke="#f7141e" stroke-width="1" stroke-linecap="butt"/>
<line x1="108.20" y1="250.50" x2="112.60" y2="250.50" stroke="#f7141e" stroke-width="1" stroke-linecap="butt"/>
<rect x="108.60" y="245.30" width="3.60" height="3.60" fill="#f7141e" stroke="#f7141e" stroke-width="1"/>
<line x1="152.20" y1="237.50" x2="152.20" y2="244.70" stroke="#f7141e" stroke-width="1" stroke-linecap="butt"/>
<line x1="150.00" y1="237.50" x2="154.40" y2="237.50" stroke="#f7141e" stroke-width="1" stroke-linecap="butt"/>
<line x1="150.00" y1="244.70" x2="154.40" y2="244.70" stroke="#f7141e" stroke-width="1" stroke-linecap="butt"/>
<rect x="150.40" y="239.30" width="3.60" height="3.60" fill="#f7141e" stroke="#f7141e" stroke-width="1"/>
<line x1="193.80" y1="233.90" x2="193.80" y2="240.30" stroke="#f7141e" stroke-width="1" stroke-linecap="butt"/>
<line x1="191.60" y1="233.90" x2="196.00" y2="233.90" stroke="#f7141e" stroke-width="1" stroke-linecap="butt"/>
<line x1="191.60" y1="240.30" x2="196.00" y2="240.30" stroke="#f7141e" stroke-width="1" stroke-linecap="butt"/>
<rect x="192.00" y="235.30" width="3.60" height="3.60" fill="#f7141e" stroke="#f7141e" stroke-width="1"/>
<rect x="234.00" y="223.40" width="3.60" height="3.60" fill="#f7141e" stroke="#f7141e" stroke-width="1"/>
<polyline points="68.80,284.70 110.40,289.30 152.20,290.10 193.80,282.20 235.80,265.90" fill="none" stroke="#14b03a" stroke-width="1.5" stroke-linejoin="round" stroke-dasharray="5 4"/>
<line x1="68.80" y1="281.70" x2="68.80" y2="287.70" stroke="#14b03a" stroke-width="1" stroke-linecap="butt"/>
<line x1="66.60" y1="281.70" x2="71.00" y2="281.70" stroke="#14b03a" stroke-width="1" stroke-linecap="butt"/>
<line x1="66.60" y1="287.70" x2="71.00" y2="287.70" stroke="#14b03a" stroke-width="1" stroke-linecap="butt"/>
<polygon points="68.80,282.45 66.64,286.23 70.96,286.23" fill="#fff" stroke="#14b03a" stroke-width="1"/>
<line x1="110.40" y1="285.80" x2="110.40" y2="292.80" stroke="#14b03a" stroke-width="1" stroke-linecap="butt"/>
<line x1="108.20" y1="285.80" x2="112.60" y2="285.80" stroke="#14b03a" stroke-width="1" stroke-linecap="butt"/>
<line x1="108.20" y1="292.80" x2="112.60" y2="292.80" stroke="#14b03a" stroke-width="1" stroke-linecap="butt"/>
<polygon points="110.40,287.05 108.24,290.83 112.56,290.83" fill="#fff" stroke="#14b03a" stroke-width="1"/>
<line x1="152.20" y1="286.60" x2="152.20" y2="293.60" stroke="#14b03a" stroke-width="1" stroke-linecap="butt"/>
<line x1="150.00" y1="286.60" x2="154.40" y2="286.60" stroke="#14b03a" stroke-width="1" stroke-linecap="butt"/>
<line x1="150.00" y1="293.60" x2="154.40" y2="293.60" stroke="#14b03a" stroke-width="1" stroke-linecap="butt"/>
<polygon points="152.20,287.85 150.04,291.63 154.36,291.63" fill="#fff" stroke="#14b03a" stroke-width="1"/>
<line x1="193.80" y1="279.20" x2="193.80" y2="285.20" stroke="#14b03a" stroke-width="1" stroke-linecap="butt"/>
<line x1="191.60" y1="279.20" x2="196.00" y2="279.20" stroke="#14b03a" stroke-width="1" stroke-linecap="butt"/>
<line x1="191.60" y1="285.20" x2="196.00" y2="285.20" stroke="#14b03a" stroke-width="1" stroke-linecap="butt"/>
<polygon points="193.80,279.95 191.64,283.73 195.96,283.73" fill="#fff" stroke="#14b03a" stroke-width="1"/>
<line x1="235.80" y1="261.90" x2="235.80" y2="269.90" stroke="#14b03a" stroke-width="1" stroke-linecap="butt"/>
<line x1="233.60" y1="261.90" x2="238.00" y2="261.90" stroke="#14b03a" stroke-width="1" stroke-linecap="butt"/>
<line x1="233.60" y1="269.90" x2="238.00" y2="269.90" stroke="#14b03a" stroke-width="1" stroke-linecap="butt"/>
<polygon points="235.80,263.65 233.64,267.43 237.96,267.43" fill="#fff" stroke="#14b03a" stroke-width="1"/>
<polyline points="68.80,284.70 110.40,307.40 152.20,314.40 193.80,305.30 235.80,289.00" fill="none" stroke="#14b03a" stroke-width="1.5" stroke-linejoin="round"/>
<line x1="68.80" y1="281.70" x2="68.80" y2="287.70" stroke="#14b03a" stroke-width="1" stroke-linecap="butt"/>
<line x1="66.60" y1="281.70" x2="71.00" y2="281.70" stroke="#14b03a" stroke-width="1" stroke-linecap="butt"/>
<line x1="66.60" y1="287.70" x2="71.00" y2="287.70" stroke="#14b03a" stroke-width="1" stroke-linecap="butt"/>
<polygon points="68.80,282.45 66.64,286.23 70.96,286.23" fill="#14b03a" stroke="#14b03a" stroke-width="1"/>
<line x1="110.40" y1="303.90" x2="110.40" y2="310.90" stroke="#14b03a" stroke-width="1" stroke-linecap="butt"/>
<line x1="108.20" y1="303.90" x2="112.60" y2="303.90" stroke="#14b03a" stroke-width="1" stroke-linecap="butt"/>
<line x1="108.20" y1="310.90" x2="112.60" y2="310.90" stroke="#14b03a" stroke-width="1" stroke-linecap="butt"/>
<polygon points="110.40,305.15 108.24,308.93 112.56,308.93" fill="#14b03a" stroke="#14b03a" stroke-width="1"/>
<polygon points="152.20,312.15 150.04,315.93 154.36,315.93" fill="#14b03a" stroke="#14b03a" stroke-width="1"/>
<line x1="193.80" y1="301.80" x2="193.80" y2="308.80" stroke="#14b03a" stroke-width="1" stroke-linecap="butt"/>
<line x1="191.60" y1="301.80" x2="196.00" y2="301.80" stroke="#14b03a" stroke-width="1" stroke-linecap="butt"/>
<line x1="191.60" y1="308.80" x2="196.00" y2="308.80" stroke="#14b03a" stroke-width="1" stroke-linecap="butt"/>
<polygon points="193.80,303.05 191.64,306.83 195.96,306.83" fill="#14b03a" stroke="#14b03a" stroke-width="1"/>
<line x1="235.80" y1="285.00" x2="235.80" y2="293.00" stroke="#14b03a" stroke-width="1" stroke-linecap="butt"/>
<line x1="233.60" y1="285.00" x2="238.00" y2="285.00" stroke="#14b03a" stroke-width="1" stroke-linecap="butt"/>
<line x1="233.60" y1="293.00" x2="238.00" y2="293.00" stroke="#14b03a" stroke-width="1" stroke-linecap="butt"/>
<polygon points="235.80,286.75 233.64,290.53 237.96,290.53" fill="#14b03a" stroke="#14b03a" stroke-width="1"/>
<polyline points="68.80,312.80 110.40,318.60 152.20,319.60 193.80,316.20 235.80,309.40" fill="none" stroke="#1b7bc6" stroke-width="1.5" stroke-linejoin="round" stroke-dasharray="5 4"/>
<circle cx="68.80" cy="312.80" r="2.00" fill="#fff" stroke="#1b7bc6" stroke-width="1"/>
<circle cx="110.40" cy="318.60" r="2.00" fill="#fff" stroke="#1b7bc6" stroke-width="1"/>
<circle cx="152.20" cy="319.60" r="2.00" fill="#fff" stroke="#1b7bc6" stroke-width="1"/>
<circle cx="193.80" cy="316.20" r="2.00" fill="#fff" stroke="#1b7bc6" stroke-width="1"/>
<circle cx="235.80" cy="309.40" r="2.00" fill="#fff" stroke="#1b7bc6" stroke-width="1"/>
<polyline points="68.80,312.80 110.40,328.60 152.20,333.90 193.80,327.10 235.80,316.90" fill="none" stroke="#1b7bc6" stroke-width="1.5" stroke-linejoin="round"/>
<polygon points="68.80,310.40 71.20,312.80 68.80,315.20 66.40,312.80" fill="#1b7bc6" stroke="#1b7bc6" stroke-width="1"/>
<polygon points="110.40,326.20 112.80,328.60 110.40,331.00 108.00,328.60" fill="#1b7bc6" stroke="#1b7bc6" stroke-width="1"/>
<polygon points="152.20,331.50 154.60,333.90 152.20,336.30 149.80,333.90" fill="#1b7bc6" stroke="#1b7bc6" stroke-width="1"/>
<polygon points="193.80,324.70 196.20,327.10 193.80,329.50 191.40,327.10" fill="#1b7bc6" stroke="#1b7bc6" stroke-width="1"/>
<polygon points="235.80,314.50 238.20,316.90 235.80,319.30 233.40,316.90" fill="#1b7bc6" stroke="#1b7bc6" stroke-width="1"/>
<rect x="66.60" y="310.60" width="4.40" height="4.40" fill="#1b7bc6" stroke="#1b7bc6" stroke-width="1"/>
<line x1="57.80" y1="206.40" x2="247.20" y2="206.40" stroke="#111" stroke-width="1.5" stroke-linecap="butt"/>
<line x1="57.80" y1="357.50" x2="247.20" y2="357.50" stroke="#111" stroke-width="1.5" stroke-linecap="butt"/>
<line x1="58.40" y1="206.40" x2="58.40" y2="357.50" stroke="#111" stroke-width="1.5" stroke-linecap="butt"/>
<line x1="246.60" y1="206.40" x2="246.60" y2="357.50" stroke="#111" stroke-width="1.5" stroke-linecap="butt"/>
<polygon points="55.10,259.80 61.70,257.80 61.70,260.20 55.10,262.20" fill="#fff"/>
<line x1="55.10" y1="259.60" x2="61.70" y2="257.60" stroke="#111" stroke-width="1.3" stroke-linecap="butt"/>
<line x1="55.10" y1="262.40" x2="61.70" y2="260.40" stroke="#111" stroke-width="1.3" stroke-linecap="butt"/>
<polygon points="243.30,259.80 249.90,257.80 249.90,260.20 243.30,262.20" fill="#fff"/>
<line x1="243.30" y1="259.60" x2="249.90" y2="257.60" stroke="#111" stroke-width="1.3" stroke-linecap="butt"/>
<line x1="243.30" y1="262.40" x2="249.90" y2="260.40" stroke="#111" stroke-width="1.3" stroke-linecap="butt"/>
<line x1="54.90" y1="253.70" x2="58.40" y2="253.70" stroke="#111" stroke-width="1.2" stroke-linecap="butt"/>
<text transform="translate(30.13 257.31) scale(1.08 1)" font-size="9.5" text-anchor="start" fill="#111" style="color:#111">7,000</text>
<line x1="54.90" y1="244.24" x2="58.40" y2="244.24" stroke="#111" stroke-width="1.2" stroke-linecap="butt"/>
<text transform="translate(30.13 247.85) scale(1.08 1)" font-size="9.5" text-anchor="start" fill="#111" style="color:#111">8,000</text>
<line x1="56.40" y1="234.78" x2="58.40" y2="234.78" stroke="#111" stroke-width="1" stroke-linecap="butt"/>
<line x1="54.90" y1="225.32" x2="58.40" y2="225.32" stroke="#111" stroke-width="1.2" stroke-linecap="butt"/>
<text transform="translate(25.00 228.93) scale(1.08 1)" font-size="9.5" text-anchor="start" fill="#111" style="color:#111">10,000</text>
<line x1="56.40" y1="215.86" x2="58.40" y2="215.86" stroke="#111" stroke-width="1" stroke-linecap="butt"/>
<line x1="54.90" y1="206.40" x2="58.40" y2="206.40" stroke="#111" stroke-width="1.2" stroke-linecap="butt"/>
<text transform="translate(25.00 210.01) scale(1.08 1)" font-size="9.5" text-anchor="start" fill="#111" style="color:#111">12,000</text>
<line x1="54.90" y1="357.50" x2="58.40" y2="357.50" stroke="#111" stroke-width="1.2" stroke-linecap="butt"/>
<text transform="translate(48.08 360.91) scale(1.08 1)" font-size="9.5" text-anchor="start" fill="#111" style="color:#111">0</text>
<line x1="56.40" y1="351.02" x2="58.40" y2="351.02" stroke="#111" stroke-width="1" stroke-linecap="butt"/>
<line x1="54.90" y1="344.55" x2="58.40" y2="344.55" stroke="#111" stroke-width="1.2" stroke-linecap="butt"/>
<text transform="translate(37.82 347.96) scale(1.08 1)" font-size="9.5" text-anchor="start" fill="#111" style="color:#111">200</text>
<line x1="56.40" y1="338.07" x2="58.40" y2="338.07" stroke="#111" stroke-width="1" stroke-linecap="butt"/>
<line x1="54.90" y1="331.60" x2="58.40" y2="331.60" stroke="#111" stroke-width="1.2" stroke-linecap="butt"/>
<text transform="translate(37.82 335.01) scale(1.08 1)" font-size="9.5" text-anchor="start" fill="#111" style="color:#111">400</text>
<line x1="56.40" y1="325.12" x2="58.40" y2="325.12" stroke="#111" stroke-width="1" stroke-linecap="butt"/>
<line x1="54.90" y1="318.65" x2="58.40" y2="318.65" stroke="#111" stroke-width="1.2" stroke-linecap="butt"/>
<text transform="translate(37.82 322.06) scale(1.08 1)" font-size="9.5" text-anchor="start" fill="#111" style="color:#111">600</text>
<line x1="56.40" y1="312.18" x2="58.40" y2="312.18" stroke="#111" stroke-width="1" stroke-linecap="butt"/>
<line x1="54.90" y1="305.70" x2="58.40" y2="305.70" stroke="#111" stroke-width="1.2" stroke-linecap="butt"/>
<text transform="translate(37.82 309.11) scale(1.08 1)" font-size="9.5" text-anchor="start" fill="#111" style="color:#111">800</text>
<line x1="56.40" y1="299.23" x2="58.40" y2="299.23" stroke="#111" stroke-width="1" stroke-linecap="butt"/>
<line x1="54.90" y1="292.75" x2="58.40" y2="292.75" stroke="#111" stroke-width="1.2" stroke-linecap="butt"/>
<text transform="translate(30.13 296.16) scale(1.08 1)" font-size="9.5" text-anchor="start" fill="#111" style="color:#111">1,000</text>
<line x1="56.40" y1="286.27" x2="58.40" y2="286.27" stroke="#111" stroke-width="1" stroke-linecap="butt"/>
<line x1="54.90" y1="279.80" x2="58.40" y2="279.80" stroke="#111" stroke-width="1.2" stroke-linecap="butt"/>
<text transform="translate(30.13 283.21) scale(1.08 1)" font-size="9.5" text-anchor="start" fill="#111" style="color:#111">1,200</text>
<line x1="56.40" y1="273.32" x2="58.40" y2="273.32" stroke="#111" stroke-width="1" stroke-linecap="butt"/>
<line x1="54.90" y1="266.85" x2="58.40" y2="266.85" stroke="#111" stroke-width="1.2" stroke-linecap="butt"/>
<text transform="translate(30.13 270.26) scale(1.08 1)" font-size="9.5" text-anchor="start" fill="#111" style="color:#111">1,400</text>
<line x1="68.80" y1="357.50" x2="68.80" y2="361.20" stroke="#111" stroke-width="1.2" stroke-linecap="butt"/>
<text transform="translate(66.23 371.71) scale(1.08 1)" font-size="9.5" text-anchor="start" fill="#111" style="color:#111">0</text>
<line x1="110.40" y1="357.50" x2="110.40" y2="361.20" stroke="#111" stroke-width="1.2" stroke-linecap="butt"/>
<text transform="translate(107.51 371.71) scale(1.08 1)" font-size="9.5" text-anchor="start" fill="#111" style="color:#111">5</text>
<line x1="152.20" y1="357.50" x2="152.20" y2="361.20" stroke="#111" stroke-width="1.2" stroke-linecap="butt"/>
<text transform="translate(147.46 371.71) scale(1.08 1)" font-size="9.5" text-anchor="start" fill="#111" style="color:#111">10</text>
<line x1="193.80" y1="357.50" x2="193.80" y2="361.20" stroke="#111" stroke-width="1.2" stroke-linecap="butt"/>
<text transform="translate(189.17 371.71) scale(1.08 1)" font-size="9.5" text-anchor="start" fill="#111" style="color:#111">20</text>
<line x1="235.80" y1="357.50" x2="235.80" y2="361.20" stroke="#111" stroke-width="1.2" stroke-linecap="butt"/>
<text transform="translate(231.17 371.71) scale(1.08 1)" font-size="9.5" text-anchor="start" fill="#111" style="color:#111">30</text>
<text transform="translate(4.75 205.85) scale(1.065 1)" font-size="14.8" text-anchor="start" fill="#111" style="color:#111">(c)</text>
<text x="20.90" y="327.90" font-size="10" text-anchor="start" fill="#111" style="color:#111" transform="rotate(-90 20.90 327.90)">Permeability (Barrer)</text>
<text x="112.90" y="385.27" font-size="10" text-anchor="start" fill="#111" style="color:#111">Loadings (wt.%)</text>
<line x1="61.30" y1="212.80" x2="67.60" y2="212.80" stroke="#f7141e" stroke-width="1.5" stroke-linecap="butt"/>
<line x1="72.60" y1="212.80" x2="77.80" y2="212.80" stroke="#f7141e" stroke-width="1.5" stroke-linecap="butt"/>
<rect x="69.00" y="211.00" width="3.60" height="3.60" fill="#fff" stroke="#f7141e" stroke-width="1"/>
<line x1="84.20" y1="212.80" x2="90.80" y2="212.80" stroke="#1b7bc6" stroke-width="1.5" stroke-linecap="butt"/>
<line x1="95.80" y1="212.80" x2="101.40" y2="212.80" stroke="#1b7bc6" stroke-width="1.5" stroke-linecap="butt"/>
<circle cx="94.00" cy="212.80" r="2.00" fill="#fff" stroke="#1b7bc6" stroke-width="1"/>
<line x1="107.70" y1="212.80" x2="114.10" y2="212.80" stroke="#14b03a" stroke-width="1.5" stroke-linecap="butt"/>
<line x1="119.10" y1="212.80" x2="124.90" y2="212.80" stroke="#14b03a" stroke-width="1.5" stroke-linecap="butt"/>
<polygon points="117.30,210.55 115.14,214.33 119.46,214.33" fill="#fff" stroke="#14b03a" stroke-width="1"/>
<line x1="61.30" y1="226.00" x2="80.90" y2="226.00" stroke="#f7141e" stroke-width="1.5" stroke-linecap="butt"/>
<rect x="69.30" y="224.20" width="3.60" height="3.60" fill="#f7141e" stroke="#f7141e" stroke-width="1"/>
<line x1="84.20" y1="226.00" x2="103.30" y2="226.00" stroke="#1b7bc6" stroke-width="1.5" stroke-linecap="butt"/>
<polygon points="93.60,223.60 96.00,226.00 93.60,228.40 91.20,226.00" fill="#1b7bc6" stroke="#1b7bc6" stroke-width="1"/>
<line x1="107.10" y1="226.00" x2="126.80" y2="226.00" stroke="#14b03a" stroke-width="1.5" stroke-linecap="butt"/>
<polygon points="116.60,223.75 114.44,227.53 118.76,227.53" fill="#14b03a" stroke="#14b03a" stroke-width="1"/>
<text transform="translate(131.20 216.50) scale(0.94 1)" font-size="9" text-anchor="start" fill="#111" style="color:#111">UiO-66-NH<tspan font-size="6" dy="1.6">2</tspan><tspan dy="-1.6"></tspan></text>
<text transform="translate(130.80 229.10) scale(0.94 1)" font-size="9" text-anchor="start" fill="#111" style="color:#111">UiO-66-NH<tspan font-size="6" dy="1.6">2</tspan><tspan dy="-1.6">@IL</tspan></text>
<text transform="translate(64.40 242.60) scale(0.94 1)" font-size="9" text-anchor="start" fill="#f7141e" style="color:#f7141e">CO<tspan font-size="6.2" dy="2.0">2</tspan><tspan dy="-2.0"></tspan></text>
<text transform="translate(61.60 296.40) scale(0.96 1)" font-size="9" text-anchor="start" fill="#14b03a" style="color:#14b03a">CH<tspan font-size="6.2" dy="2.0">4</tspan><tspan dy="-2.0"></tspan></text>
<text x="63.50" y="325.00" font-size="9" text-anchor="start" fill="#1b7bc6" style="color:#1b7bc6">N<tspan font-size="6.2" dy="2.0">2</tspan><tspan dy="-2.0"></tspan></text>
<polyline points="340.00,310.50 381.70,302.40 423.50,298.50 465.20,301.00 506.80,304.00" fill="none" stroke="#f7141e" stroke-width="1.5" stroke-linejoin="round" stroke-dasharray="5 4"/>
<line x1="340.00" y1="306.00" x2="340.00" y2="315.00" stroke="#f7141e" stroke-width="1" stroke-linecap="butt"/>
<line x1="337.80" y1="306.00" x2="342.20" y2="306.00" stroke="#f7141e" stroke-width="1" stroke-linecap="butt"/>
<line x1="337.80" y1="315.00" x2="342.20" y2="315.00" stroke="#f7141e" stroke-width="1" stroke-linecap="butt"/>
<rect x="338.20" y="308.70" width="3.60" height="3.60" fill="#fff" stroke="#f7141e" stroke-width="1"/>
<line x1="381.70" y1="298.40" x2="381.70" y2="306.40" stroke="#f7141e" stroke-width="1" stroke-linecap="butt"/>
<line x1="379.50" y1="298.40" x2="383.90" y2="298.40" stroke="#f7141e" stroke-width="1" stroke-linecap="butt"/>
<line x1="379.50" y1="306.40" x2="383.90" y2="306.40" stroke="#f7141e" stroke-width="1" stroke-linecap="butt"/>
<circle cx="381.70" cy="302.40" r="2.00" fill="#fff" stroke="#f7141e" stroke-width="1"/>
<line x1="423.50" y1="295.50" x2="423.50" y2="301.50" stroke="#f7141e" stroke-width="1" stroke-linecap="butt"/>
<line x1="421.30" y1="295.50" x2="425.70" y2="295.50" stroke="#f7141e" stroke-width="1" stroke-linecap="butt"/>
<line x1="421.30" y1="301.50" x2="425.70" y2="301.50" stroke="#f7141e" stroke-width="1" stroke-linecap="butt"/>
<circle cx="423.50" cy="298.50" r="2.00" fill="#fff" stroke="#f7141e" stroke-width="1"/>
<line x1="465.20" y1="298.00" x2="465.20" y2="304.00" stroke="#f7141e" stroke-width="1" stroke-linecap="butt"/>
<line x1="463.00" y1="298.00" x2="467.40" y2="298.00" stroke="#f7141e" stroke-width="1" stroke-linecap="butt"/>
<line x1="463.00" y1="304.00" x2="467.40" y2="304.00" stroke="#f7141e" stroke-width="1" stroke-linecap="butt"/>
<circle cx="465.20" cy="301.00" r="2.00" fill="#fff" stroke="#f7141e" stroke-width="1"/>
<rect x="505.00" y="302.20" width="3.60" height="3.60" fill="#fff" stroke="#f7141e" stroke-width="1"/>
<polyline points="340.00,311.50 381.70,276.00 423.50,249.50 465.20,271.10 506.80,282.40" fill="none" stroke="#f7141e" stroke-width="1.5" stroke-linejoin="round"/>
<line x1="340.00" y1="307.00" x2="340.00" y2="316.00" stroke="#f7141e" stroke-width="1" stroke-linecap="butt"/>
<line x1="337.80" y1="307.00" x2="342.20" y2="307.00" stroke="#f7141e" stroke-width="1" stroke-linecap="butt"/>
<line x1="337.80" y1="316.00" x2="342.20" y2="316.00" stroke="#f7141e" stroke-width="1" stroke-linecap="butt"/>
<rect x="338.20" y="309.70" width="3.60" height="3.60" fill="#f7141e" stroke="#f7141e" stroke-width="1"/>
<line x1="381.70" y1="270.50" x2="381.70" y2="281.50" stroke="#f7141e" stroke-width="1" stroke-linecap="butt"/>
<line x1="379.50" y1="270.50" x2="383.90" y2="270.50" stroke="#f7141e" stroke-width="1" stroke-linecap="butt"/>
<line x1="379.50" y1="281.50" x2="383.90" y2="281.50" stroke="#f7141e" stroke-width="1" stroke-linecap="butt"/>
<rect x="379.90" y="274.20" width="3.60" height="3.60" fill="#f7141e" stroke="#f7141e" stroke-width="1"/>
<line x1="423.50" y1="244.50" x2="423.50" y2="254.50" stroke="#f7141e" stroke-width="1" stroke-linecap="butt"/>
<line x1="421.30" y1="244.50" x2="425.70" y2="244.50" stroke="#f7141e" stroke-width="1" stroke-linecap="butt"/>
<line x1="421.30" y1="254.50" x2="425.70" y2="254.50" stroke="#f7141e" stroke-width="1" stroke-linecap="butt"/>
<rect x="421.70" y="247.70" width="3.60" height="3.60" fill="#f7141e" stroke="#f7141e" stroke-width="1"/>
<line x1="465.20" y1="265.80" x2="465.20" y2="276.40" stroke="#f7141e" stroke-width="1" stroke-linecap="butt"/>
<line x1="463.00" y1="265.80" x2="467.40" y2="265.80" stroke="#f7141e" stroke-width="1" stroke-linecap="butt"/>
<line x1="463.00" y1="276.40" x2="467.40" y2="276.40" stroke="#f7141e" stroke-width="1" stroke-linecap="butt"/>
<rect x="463.40" y="269.30" width="3.60" height="3.60" fill="#f7141e" stroke="#f7141e" stroke-width="1"/>
<line x1="506.80" y1="278.40" x2="506.80" y2="286.40" stroke="#f7141e" stroke-width="1" stroke-linecap="butt"/>
<line x1="504.60" y1="278.40" x2="509.00" y2="278.40" stroke="#f7141e" stroke-width="1" stroke-linecap="butt"/>
<line x1="504.60" y1="286.40" x2="509.00" y2="286.40" stroke="#f7141e" stroke-width="1" stroke-linecap="butt"/>
<rect x="505.00" y="280.60" width="3.60" height="3.60" fill="#f7141e" stroke="#f7141e" stroke-width="1"/>
<polyline points="340.00,331.80 381.70,328.50 423.50,326.90 465.20,329.40 506.80,332.10" fill="none" stroke="#1b7bc6" stroke-width="1.5" stroke-linejoin="round" stroke-dasharray="5 4"/>
<line x1="340.00" y1="328.80" x2="340.00" y2="334.80" stroke="#1b7bc6" stroke-width="1" stroke-linecap="butt"/>
<line x1="337.80" y1="328.80" x2="342.20" y2="328.80" stroke="#1b7bc6" stroke-width="1" stroke-linecap="butt"/>
<line x1="337.80" y1="334.80" x2="342.20" y2="334.80" stroke="#1b7bc6" stroke-width="1" stroke-linecap="butt"/>
<rect x="338.20" y="330.00" width="3.60" height="3.60" fill="#fff" stroke="#1b7bc6" stroke-width="1"/>
<line x1="381.70" y1="325.50" x2="381.70" y2="331.50" stroke="#1b7bc6" stroke-width="1" stroke-linecap="butt"/>
<line x1="379.50" y1="325.50" x2="383.90" y2="325.50" stroke="#1b7bc6" stroke-width="1" stroke-linecap="butt"/>
<line x1="379.50" y1="331.50" x2="383.90" y2="331.50" stroke="#1b7bc6" stroke-width="1" stroke-linecap="butt"/>
<rect x="379.90" y="326.70" width="3.60" height="3.60" fill="#fff" stroke="#1b7bc6" stroke-width="1"/>
<rect x="421.70" y="325.10" width="3.60" height="3.60" fill="#fff" stroke="#1b7bc6" stroke-width="1"/>
<rect x="463.40" y="327.60" width="3.60" height="3.60" fill="#fff" stroke="#1b7bc6" stroke-width="1"/>
<rect x="505.00" y="330.30" width="3.60" height="3.60" fill="#fff" stroke="#1b7bc6" stroke-width="1"/>
<polyline points="340.00,331.80 381.70,313.30 423.50,301.30 465.20,309.00 506.80,315.30" fill="none" stroke="#1b7bc6" stroke-width="1.5" stroke-linejoin="round"/>
<line x1="340.00" y1="328.80" x2="340.00" y2="334.80" stroke="#1b7bc6" stroke-width="1" stroke-linecap="butt"/>
<line x1="337.80" y1="328.80" x2="342.20" y2="328.80" stroke="#1b7bc6" stroke-width="1" stroke-linecap="butt"/>
<line x1="337.80" y1="334.80" x2="342.20" y2="334.80" stroke="#1b7bc6" stroke-width="1" stroke-linecap="butt"/>
<polygon points="340.00,329.40 342.40,331.80 340.00,334.20 337.60,331.80" fill="#1b7bc6" stroke="#1b7bc6" stroke-width="1"/>
<line x1="381.70" y1="309.80" x2="381.70" y2="316.80" stroke="#1b7bc6" stroke-width="1" stroke-linecap="butt"/>
<line x1="379.50" y1="309.80" x2="383.90" y2="309.80" stroke="#1b7bc6" stroke-width="1" stroke-linecap="butt"/>
<line x1="379.50" y1="316.80" x2="383.90" y2="316.80" stroke="#1b7bc6" stroke-width="1" stroke-linecap="butt"/>
<polygon points="381.70,310.90 384.10,313.30 381.70,315.70 379.30,313.30" fill="#1b7bc6" stroke="#1b7bc6" stroke-width="1"/>
<line x1="423.50" y1="297.80" x2="423.50" y2="304.80" stroke="#1b7bc6" stroke-width="1" stroke-linecap="butt"/>
<line x1="421.30" y1="297.80" x2="425.70" y2="297.80" stroke="#1b7bc6" stroke-width="1" stroke-linecap="butt"/>
<line x1="421.30" y1="304.80" x2="425.70" y2="304.80" stroke="#1b7bc6" stroke-width="1" stroke-linecap="butt"/>
<polygon points="423.50,298.90 425.90,301.30 423.50,303.70 421.10,301.30" fill="#1b7bc6" stroke="#1b7bc6" stroke-width="1"/>
<line x1="465.20" y1="305.50" x2="465.20" y2="312.50" stroke="#1b7bc6" stroke-width="1" stroke-linecap="butt"/>
<line x1="463.00" y1="305.50" x2="467.40" y2="305.50" stroke="#1b7bc6" stroke-width="1" stroke-linecap="butt"/>
<line x1="463.00" y1="312.50" x2="467.40" y2="312.50" stroke="#1b7bc6" stroke-width="1" stroke-linecap="butt"/>
<polygon points="465.20,306.60 467.60,309.00 465.20,311.40 462.80,309.00" fill="#1b7bc6" stroke="#1b7bc6" stroke-width="1"/>
<line x1="506.80" y1="311.80" x2="506.80" y2="318.80" stroke="#1b7bc6" stroke-width="1" stroke-linecap="butt"/>
<line x1="504.60" y1="311.80" x2="509.00" y2="311.80" stroke="#1b7bc6" stroke-width="1" stroke-linecap="butt"/>
<line x1="504.60" y1="318.80" x2="509.00" y2="318.80" stroke="#1b7bc6" stroke-width="1" stroke-linecap="butt"/>
<polygon points="506.80,312.90 509.20,315.30 506.80,317.70 504.40,315.30" fill="#1b7bc6" stroke="#1b7bc6" stroke-width="1"/>
<line x1="329.30" y1="212.00" x2="518.70" y2="212.00" stroke="#111" stroke-width="1.5" stroke-linecap="butt"/>
<line x1="329.30" y1="362.30" x2="518.70" y2="362.30" stroke="#111" stroke-width="1.5" stroke-linecap="butt"/>
<line x1="329.90" y1="212.00" x2="329.90" y2="362.30" stroke="#111" stroke-width="1.5" stroke-linecap="butt"/>
<line x1="518.10" y1="212.00" x2="518.10" y2="362.30" stroke="#111" stroke-width="1.5" stroke-linecap="butt"/>
<line x1="326.40" y1="362.30" x2="329.90" y2="362.30" stroke="#111" stroke-width="1.2" stroke-linecap="butt"/>
<text transform="translate(319.58 365.61) scale(1.08 1)" font-size="9.5" text-anchor="start" fill="#111" style="color:#111">0</text>
<line x1="327.90" y1="349.78" x2="329.90" y2="349.78" stroke="#111" stroke-width="1" stroke-linecap="butt"/>
<line x1="326.40" y1="337.25" x2="329.90" y2="337.25" stroke="#111" stroke-width="1.2" stroke-linecap="butt"/>
<text transform="translate(319.53 340.56) scale(1.08 1)" font-size="9.5" text-anchor="start" fill="#111" style="color:#111">5</text>
<line x1="327.90" y1="324.73" x2="329.90" y2="324.73" stroke="#111" stroke-width="1" stroke-linecap="butt"/>
<line x1="326.40" y1="312.20" x2="329.90" y2="312.20" stroke="#111" stroke-width="1.2" stroke-linecap="butt"/>
<text transform="translate(314.45 315.51) scale(1.08 1)" font-size="9.5" text-anchor="start" fill="#111" style="color:#111">10</text>
<line x1="327.90" y1="299.68" x2="329.90" y2="299.68" stroke="#111" stroke-width="1" stroke-linecap="butt"/>
<line x1="326.40" y1="287.15" x2="329.90" y2="287.15" stroke="#111" stroke-width="1.2" stroke-linecap="butt"/>
<text transform="translate(314.40 290.46) scale(1.08 1)" font-size="9.5" text-anchor="start" fill="#111" style="color:#111">15</text>
<line x1="327.90" y1="274.62" x2="329.90" y2="274.62" stroke="#111" stroke-width="1" stroke-linecap="butt"/>
<line x1="326.40" y1="262.10" x2="329.90" y2="262.10" stroke="#111" stroke-width="1.2" stroke-linecap="butt"/>
<text transform="translate(314.45 265.41) scale(1.08 1)" font-size="9.5" text-anchor="start" fill="#111" style="color:#111">20</text>
<line x1="327.90" y1="249.57" x2="329.90" y2="249.57" stroke="#111" stroke-width="1" stroke-linecap="butt"/>
<line x1="326.40" y1="237.05" x2="329.90" y2="237.05" stroke="#111" stroke-width="1.2" stroke-linecap="butt"/>
<text transform="translate(314.40 240.36) scale(1.08 1)" font-size="9.5" text-anchor="start" fill="#111" style="color:#111">25</text>
<line x1="327.90" y1="224.53" x2="329.90" y2="224.53" stroke="#111" stroke-width="1" stroke-linecap="butt"/>
<line x1="326.40" y1="212.00" x2="329.90" y2="212.00" stroke="#111" stroke-width="1.2" stroke-linecap="butt"/>
<text transform="translate(314.45 215.31) scale(1.08 1)" font-size="9.5" text-anchor="start" fill="#111" style="color:#111">30</text>
<line x1="340.00" y1="362.30" x2="340.00" y2="366.00" stroke="#111" stroke-width="1.2" stroke-linecap="butt"/>
<text transform="translate(337.94 375.61) scale(1.08 1)" font-size="9.5" text-anchor="start" fill="#111" style="color:#111">0</text>
<line x1="381.70" y1="362.30" x2="381.70" y2="366.00" stroke="#111" stroke-width="1.2" stroke-linecap="butt"/>
<text transform="translate(379.81 375.61) scale(1.08 1)" font-size="9.5" text-anchor="start" fill="#111" style="color:#111">5</text>
<line x1="423.50" y1="362.30" x2="423.50" y2="366.00" stroke="#111" stroke-width="1.2" stroke-linecap="butt"/>
<text transform="translate(419.16 375.61) scale(1.08 1)" font-size="9.5" text-anchor="start" fill="#111" style="color:#111">10</text>
<line x1="465.20" y1="362.30" x2="465.20" y2="366.00" stroke="#111" stroke-width="1.2" stroke-linecap="butt"/>
<text transform="translate(460.87 375.61) scale(1.08 1)" font-size="9.5" text-anchor="start" fill="#111" style="color:#111">20</text>
<line x1="506.80" y1="362.30" x2="506.80" y2="366.00" stroke="#111" stroke-width="1.2" stroke-linecap="butt"/>
<text transform="translate(503.47 375.61) scale(1.08 1)" font-size="9.5" text-anchor="start" fill="#111" style="color:#111">30</text>
<text transform="translate(277.10 213.30) scale(1.065 1)" font-size="14.8" text-anchor="start" fill="#111" style="color:#111">(d)</text>
<text x="309.65" y="313.55" font-size="10" text-anchor="start" fill="#111" style="color:#111" transform="rotate(-90 309.65 313.55)">Selectivity</text>
<text x="384.15" y="390.68" font-size="10" text-anchor="start" fill="#111" style="color:#111">Loadings (wt.%)</text>
<line x1="332.00" y1="218.80" x2="336.50" y2="218.80" stroke="#f7141e" stroke-width="1.5" stroke-linecap="butt"/>
<line x1="341.50" y1="218.80" x2="347.30" y2="218.80" stroke="#f7141e" stroke-width="1.5" stroke-linecap="butt"/>
<rect x="337.90" y="217.00" width="3.60" height="3.60" fill="#fff" stroke="#f7141e" stroke-width="1"/>
<line x1="351.60" y1="218.80" x2="356.80" y2="218.80" stroke="#1b7bc6" stroke-width="1.5" stroke-linecap="butt"/>
<line x1="361.80" y1="218.80" x2="368.20" y2="218.80" stroke="#1b7bc6" stroke-width="1.5" stroke-linecap="butt"/>
<circle cx="360.00" cy="218.80" r="2.00" fill="#fff" stroke="#1b7bc6" stroke-width="1"/>
<line x1="332.00" y1="230.90" x2="349.10" y2="230.90" stroke="#f7141e" stroke-width="1.5" stroke-linecap="butt"/>
<rect x="338.40" y="229.10" width="3.60" height="3.60" fill="#f7141e" stroke="#f7141e" stroke-width="1"/>
<line x1="352.40" y1="230.90" x2="369.50" y2="230.90" stroke="#1b7bc6" stroke-width="1.5" stroke-linecap="butt"/>
<polygon points="360.50,228.50 362.90,230.90 360.50,233.30 358.10,230.90" fill="#1b7bc6" stroke="#1b7bc6" stroke-width="1"/>
<text transform="translate(371.60 221.10) scale(0.97 1)" font-size="9" text-anchor="start" fill="#111" style="color:#111">UiO-66-NH<tspan font-size="6" dy="1.6">2</tspan><tspan dy="-1.6"></tspan></text>
<text transform="translate(371.60 233.00) scale(0.96 1)" font-size="9" text-anchor="start" fill="#111" style="color:#111">UiO-66-NH<tspan font-size="6" dy="1.6">2</tspan><tspan dy="-1.6">@IL</tspan></text>
<text transform="translate(334.00 280.60) scale(0.93 1)" font-size="9" text-anchor="start" fill="#f7141e" style="color:#f7141e">CO<tspan font-size="6.2" dy="2.0">2</tspan><tspan dy="-2.0">/N<tspan font-size="6.2" dy="2.0">2</tspan><tspan dy="-2.0"></tspan></tspan></text>
<text transform="translate(336.20 342.90) scale(0.97 1)" font-size="9" text-anchor="start" fill="#1b7bc6" style="color:#1b7bc6">CO<tspan font-size="6.2" dy="2.0">2</tspan><tspan dy="-2.0">/CH<tspan font-size="6.2" dy="2.0">4</tspan><tspan dy="-2.0"></tspan></tspan></text>
</svg></body></html>
